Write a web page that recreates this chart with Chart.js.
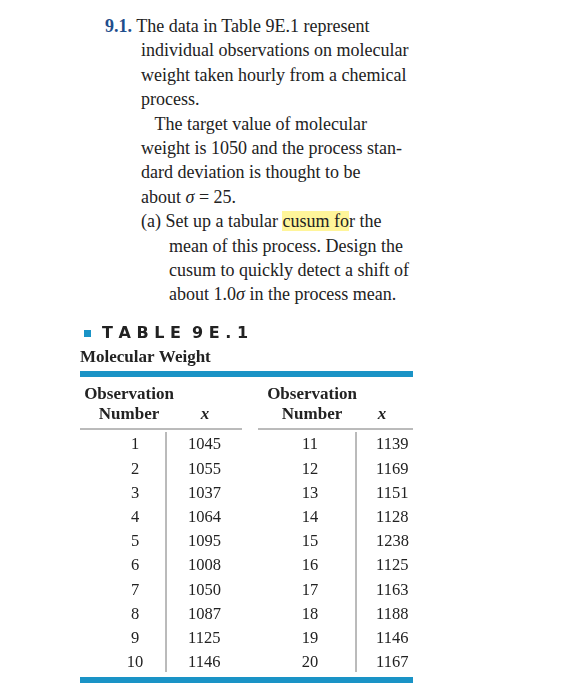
<!DOCTYPE html>
<html>
<head>
<meta charset="UTF-8">
<script src="https://cdn.jsdelivr.net/npm/chart.js"></script>
<style>
  body { margin:0; background:#fff; width:567px; height:700px; position:relative; overflow:hidden; }
  #txt { position:absolute; left:105px; top:14px; width:340px; font-family:'Liberation Serif',serif; font-size:18px; line-height:24.4px; color:#222; }
  #txt p { margin:0; }
  .num { font-weight:bold; color:#1f4e8c; }
  .hl { background:#fff59a; }
  #wrap { position:absolute; left:0; top:318px; width:567px; height:382px; }
</style>
</head>
<body>
<div id="txt">
  <p><span class="num">9.1.</span> The data in Table 9E.1 represent</p>
  <p style="padding-left:36px">individual observations on molecular<br>weight taken hourly from a chemical<br>process.</p>
  <p style="padding-left:36px">&nbsp;&nbsp;&nbsp;The target value of molecular<br>weight is 1050 and the process stan-<br>dard deviation is thought to be<br>about <i>σ</i> = 25.</p>
  <p style="padding-left:36px">(a) Set up a tabular <span class="hl">cusum fo</span>r the</p>
  <p style="padding-left:64px">mean of this process. Design the<br>cusum to quickly detect a shift of<br>about 1.0<i>σ</i> in the process mean.</p>
</div>
<div id="wrap"><canvas id="tbl" width="567" height="382"></canvas></div>
<script>
const obsLeft = [1,2,3,4,5,6,7,8,9,10];
const xLeft = [1045,1055,1037,1064,1095,1008,1050,1087,1125,1146];
const obsRight = [11,12,13,14,15,16,17,18,19,20];
const xRight = [1139,1169,1151,1128,1238,1125,1163,1188,1146,1167];

const teal = '#1a93c6';
const tablePlugin = {
  id: 'tableDraw',
  afterDraw(chart) {
    const { ctx } = chart;
    const X = v => chart.scales.x.getPixelForValue(v);
    const Y = v => chart.scales.y.getPixelForValue(v);
    ctx.save();
    ctx.textBaseline = 'middle';
    ctx.fillStyle = teal;
    ctx.fillRect(X(84), Y(330), 7, 7);
    ctx.fillStyle = '#222';
    ctx.font = 'bold 16px "DejaVu Sans"';
    ctx.textAlign = 'left';
    ctx.fillText('T A B L E  9 E . 1', X(102), Y(334));
    ctx.font = 'bold 17px "Liberation Serif"';
    ctx.fillText('Molecular Weight', X(80), Y(358));
    ctx.fillStyle = teal;
    ctx.fillRect(X(80), Y(371), X(413) - X(80), 6);
    ctx.fillRect(X(80), Y(677), X(413) - X(80), 6);
    ctx.fillStyle = '#222';
    ctx.font = 'bold 17px "Liberation Serif"';
    ctx.textAlign = 'center';
    ctx.fillText('Observation', X(129), Y(395));
    ctx.fillText('Number', X(129), Y(415));
    ctx.fillText('Observation', X(312), Y(395));
    ctx.fillText('Number', X(312), Y(415));
    ctx.font = 'bold italic 17px "Liberation Serif"';
    ctx.fillText('x', X(205), Y(415));
    ctx.fillText('x', X(382), Y(415));
    ctx.strokeStyle = '#777';
    ctx.lineWidth = 1;
    ctx.beginPath();
    ctx.moveTo(X(80), Y(429)); ctx.lineTo(X(242), Y(429));
    ctx.moveTo(X(258), Y(429)); ctx.lineTo(X(413), Y(429));
    ctx.moveTo(X(166), Y(432)); ctx.lineTo(X(166), Y(672));
    ctx.moveTo(X(356), Y(432)); ctx.lineTo(X(356), Y(672));
    ctx.stroke();
    ctx.font = '16.5px "Liberation Serif"';
    obsLeft.forEach((o, i) => {
      const y = Y(445 + i * 24.2);
      ctx.textAlign = 'center';
      ctx.fillText(String(o), X(135), y);
      ctx.fillText(String(obsRight[i]), X(310), y);
      ctx.textAlign = 'left';
      ctx.fillText(String(xLeft[i]), X(188), y);
      ctx.fillText(String(xRight[i]), X(376), y);
    });
    ctx.restore();
  }
};

new Chart(document.getElementById('tbl'), {
  type: 'scatter',
  data: { datasets: [{ data: [], pointRadius: 0 }] },
  options: {
    responsive: false, animation: false,
    layout: { padding: 0 },
    plugins: { legend: { display: false }, tooltip: { enabled: false } },
    scales: {
      x: { type: 'linear', min: 0, max: 567, display: false },
      y: { type: 'linear', min: 318, max: 700, reverse: true, display: false }
    }
  },
  plugins: [tablePlugin]
});
</script>
</body>
</html>
